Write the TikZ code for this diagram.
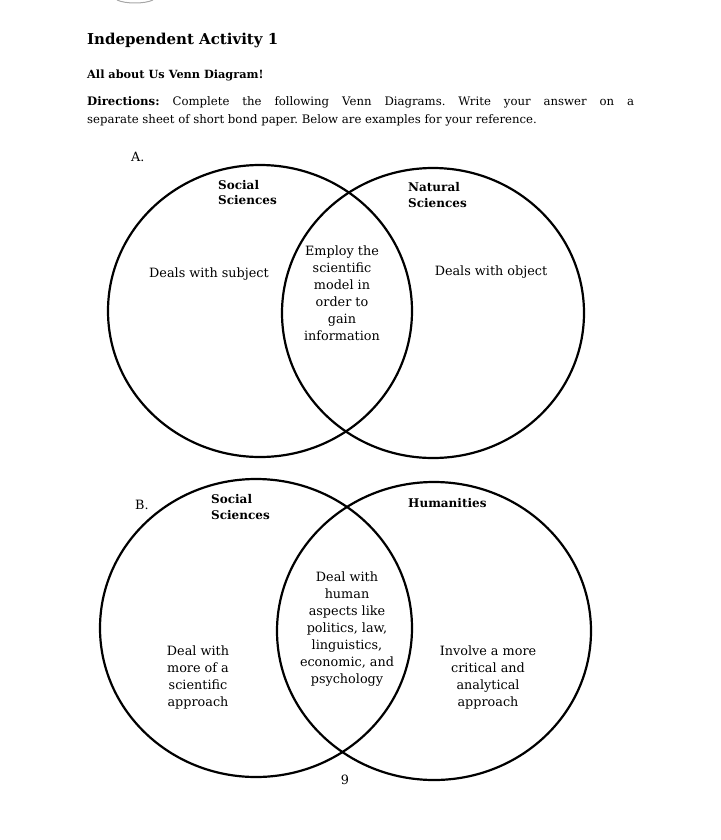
\documentclass[tikz,border=0pt]{standalone}
\usepackage{fontspec}
\setmainfont{DejaVu Serif}
\usetikzlibrary{positioning}
\frenchspacing

\tikzset{
  venn/.style={line width=2.2pt},
  body/.style={align=center, inner sep=0pt, font=\fontsize{12.8}{17}\selectfont},
  head/.style={align=left, inner sep=0pt, anchor=west, font=\bfseries\fontsize{12}{15.5}\selectfont},
}

\begin{document}
\begin{tikzpicture}[x=1pt,y=-1pt]
    \useasboundingbox (0,0) rectangle (720,840);
    % logo cut off at the top
    \draw [gray!70, line width=1pt] (117,0) .. controls (125,4) and (145,4) .. (153,0);

    % heading
    \node [anchor=west, inner sep=0pt, font=\bfseries\fontsize{15}{18}\selectfont] (title) at (87,40) {Independent Activity 1};
    \node [anchor=west, inner sep=0pt, font=\bfseries\fontsize{11.3}{14}\selectfont] (sub) at (87,75) {All about Us Venn Diagram!};
    \node [anchor=north west, inner sep=0pt, text width=547pt, align=justify,
           font=\fontsize{11.7}{18}\selectfont] (dir) at (87,96)
      {\textbf{Directions:} Complete the following Venn Diagrams. Write your answer on a\linebreak
       separate sheet of short bond paper. Below are examples for your reference.};

    % diagram A
    \node [body, anchor=west] (labA) at (131,157) {A.};
    \draw [venn] (260,311) ellipse [x radius=152, y radius=146];
    \draw [venn] (433,313) ellipse [x radius=151, y radius=145];
    \node [head] (socA) at (218,192.5) {Social\\Sciences};
    \node [head] (natA) at (408,195) {Natural\\Sciences};
    \node [body] (subjA) at (209,274) {Deals with subject};
    \node [body] (objA) at (491,272) {Deals with object};
    \node [body] (midA) at (342,293) {Employ the\\scientific\\model in\\order to\\gain\\information};

    % diagram B
    \node [body, anchor=west] (labB) at (135,505) {B.};
    \draw [venn] (256,628) ellipse [x radius=156, y radius=149];
    \draw [venn] (434,631) ellipse [x radius=157, y radius=149];
    \node [head] (socB) at (211,507) {Social\\Sciences};
    \node [head] (humB) at (408,503) {Humanities};
    \node [body] (leftB) at (198,677.5) {Deal with\\more of a\\scientific\\approach};
    \node [body] (rightB) at (488,677) {Involve a more\\critical and\\analytical\\approach};
    \node [body] (midB) at (347,629) {Deal with\\human\\aspects like\\politics, law,\\linguistics,\\economic, and\\psychology};

    \node [body] (page) at (345,780) {9};
\end{tikzpicture}
\end{document}
